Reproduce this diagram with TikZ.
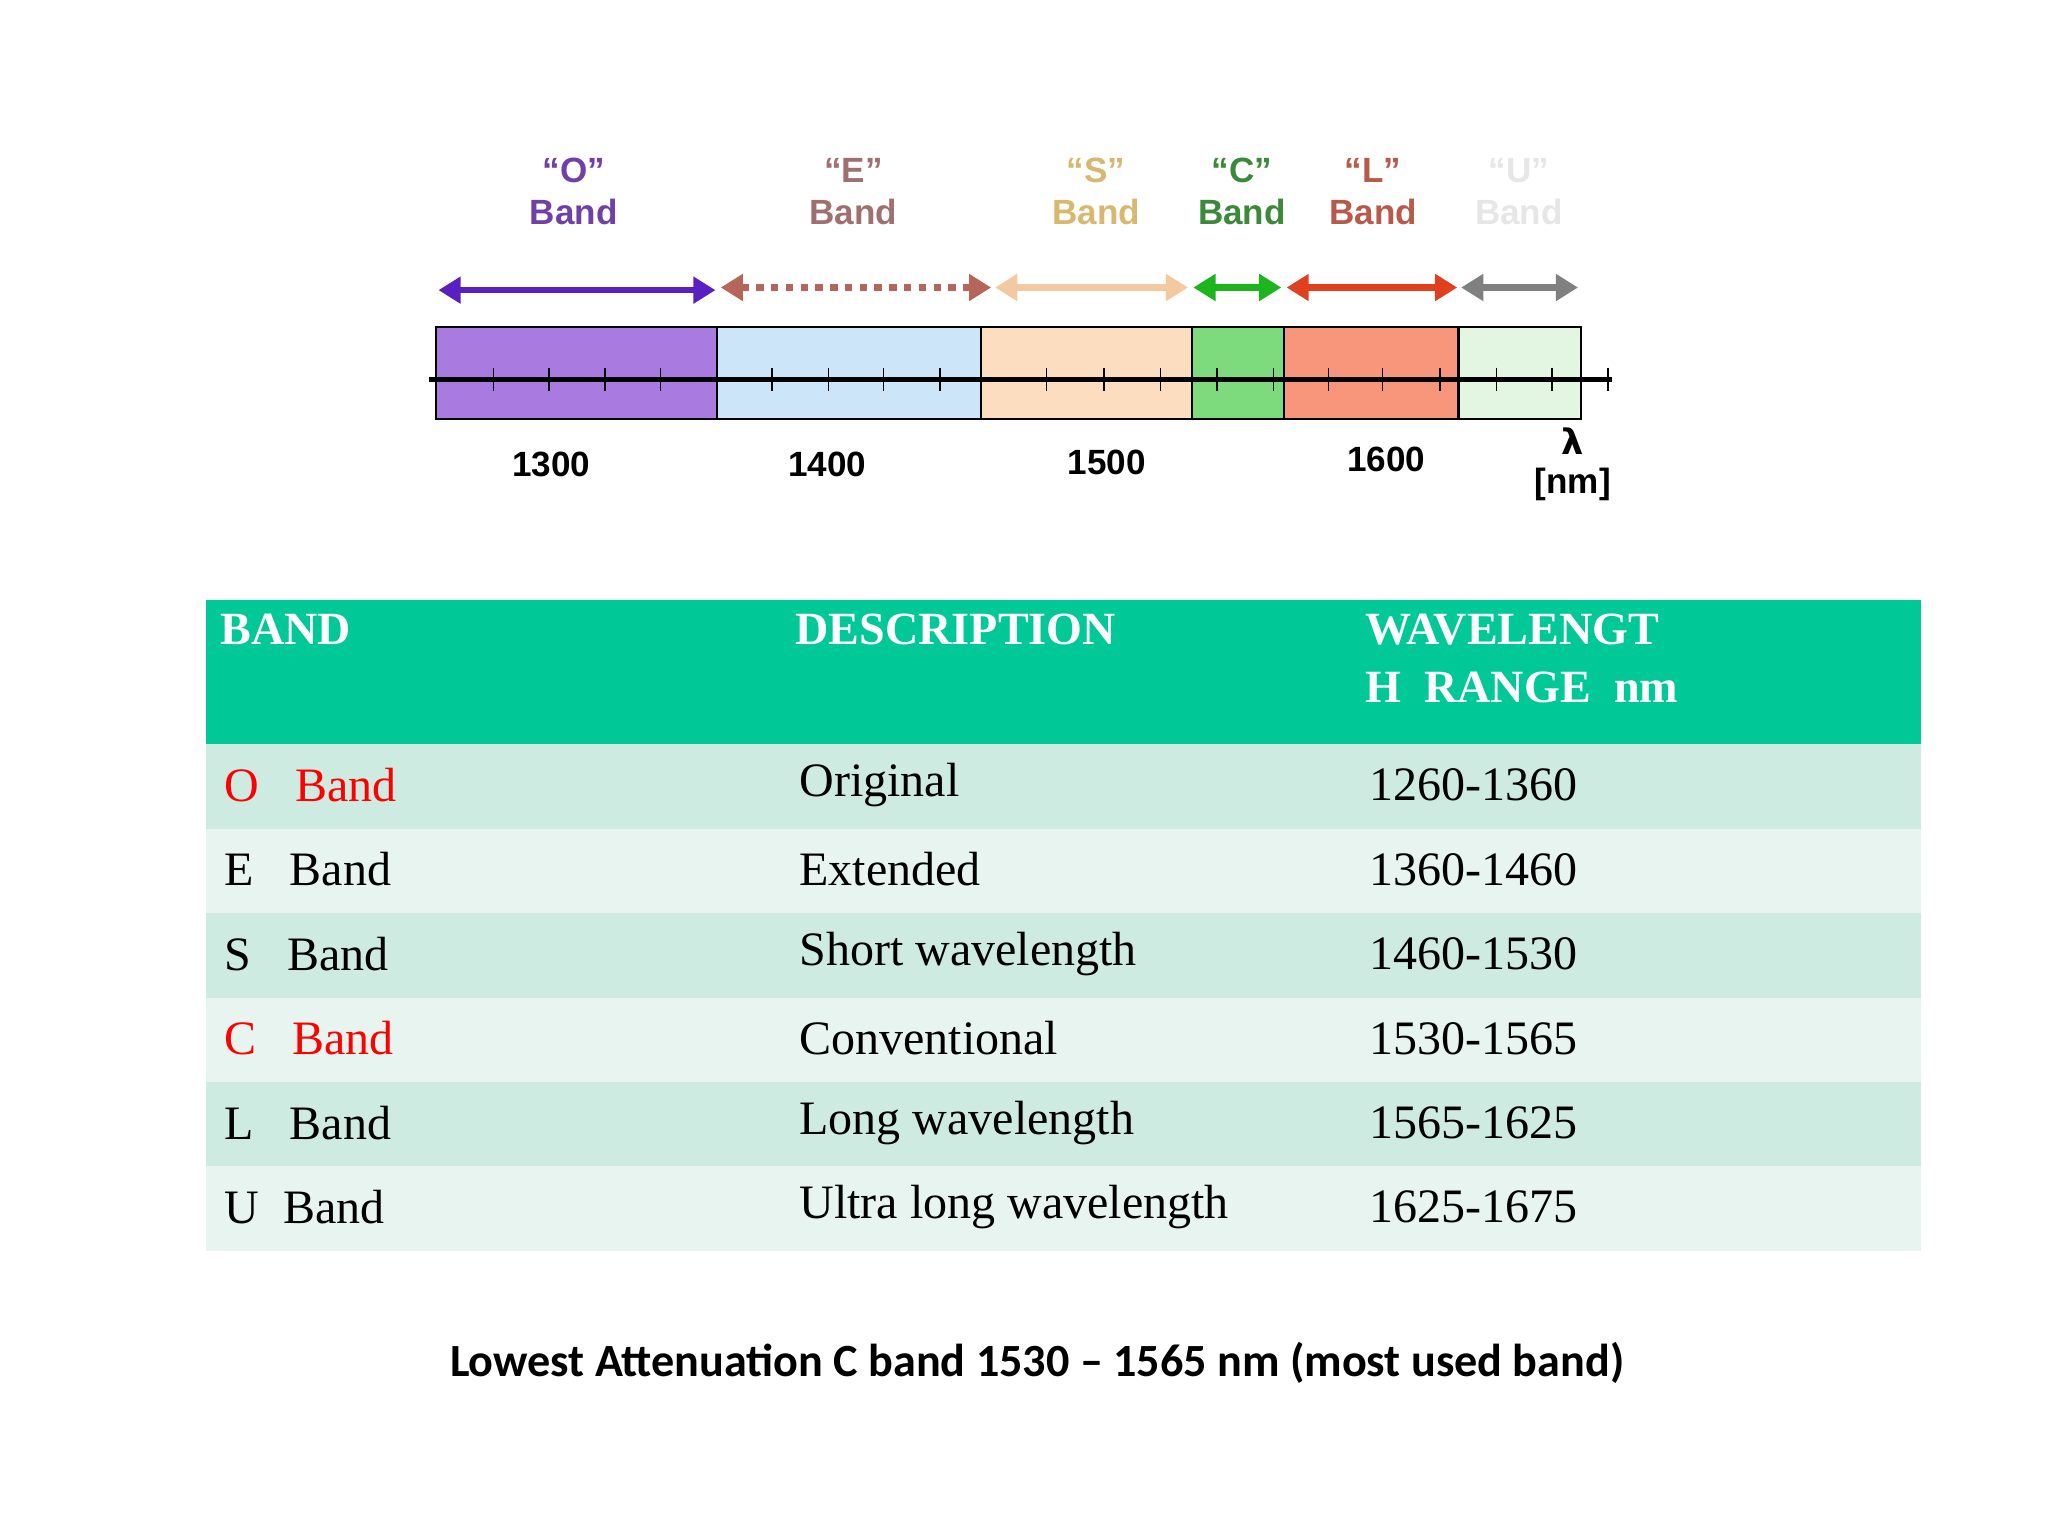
\documentclass[tikz,border=0pt]{standalone}
\usepackage{fontspec}
\setmainfont{Liberation Serif}
\newfontfamily\arial{Liberation Sans}
\newfontfamily\calib{Carlito}
\usetikzlibrary{arrows.meta}
\definecolor{hdr}{HTML}{00C896}
\definecolor{rowA}{HTML}{CDEBE0}
\definecolor{rowB}{HTML}{E7F4EF}
\definecolor{cO}{HTML}{A97AE0}\definecolor{cE}{HTML}{CDE5F8}\definecolor{cS}{HTML}{FCDDC0}
\definecolor{cC}{HTML}{7DDB7D}\definecolor{cL}{HTML}{F7967A}\definecolor{cU}{HTML}{E2F6E2}
\definecolor{aO}{HTML}{5A1FC0}\definecolor{aE}{HTML}{B5655A}\definecolor{aS}{HTML}{F5C9A0}
\definecolor{aC}{HTML}{1DB51D}\definecolor{aL}{HTML}{E0401E}\definecolor{aU}{HTML}{808080}
\definecolor{tO}{HTML}{7040A8}\definecolor{tE}{HTML}{A07070}\definecolor{tS}{HTML}{D8B870}
\definecolor{tC}{HTML}{3A8A3A}\definecolor{tL}{HTML}{B85A4A}\definecolor{tU}{HTML}{E6E6E6}
\begin{document}
\begin{tikzpicture}[x=0.025cm,y=-0.025cm,
  bandlbl/.style={font=\arial\bfseries\fontsize{19}{23}\selectfont,align=center},
  numlbl/.style={font=\arial\bfseries\fontsize{19}{23}\selectfont},
  barr/.style={line width=3.5pt,{Triangle[width=14pt,length=12pt]}-{Triangle[width=14pt,length=12pt]}},
  cell/.style={anchor=west,font=\fontsize{26}{30}\selectfont},
  hcell/.style={anchor=north west,font=\bfseries\fontsize{25}{31}\selectfont,text=white,align=left}]
\useasboundingbox (0,0) rectangle (1560,1170);
% band rectangles
\foreach \a/\b/\c in {332/546/cO,546/747/cE,747/908/cS,908/978/cC,978/1111/cL,1111/1204/cU}
  \draw[fill=\c,line width=1.2pt] (\a,249) rectangle (\b,319);
\draw[line width=3pt] (327,289) -- (1228,289);
\foreach \t in {376,418,461,503,588,631,673,716,797,841,884,927,970,1012,1053,1097,1140,1182,1225}
  \draw[line width=0.8pt] (\t,280) -- (\t,298);
% arrows
\coordinate (o1) at (334,221); \coordinate (o2) at (545,221);
\coordinate (e1) at (549,219); \coordinate (e2) at (755,219);
\coordinate (s1) at (758,219); \coordinate (s2) at (905,219);
\coordinate (c1) at (909,219); \coordinate (c2) at (976,219);
\coordinate (l1) at (980,219); \coordinate (l2) at (1110,219);
\coordinate (u1) at (1113,219); \coordinate (u2) at (1202,219);
\draw[barr,aO] (o1) -- (o2);
\draw[barr,aE,dash pattern=on 4pt off 4pt] (e1) -- (e2);
\draw[barr,aS] (s1) -- (s2);
\draw[barr,aC] (c1) -- (c2);
\draw[barr,aL] (l1) -- (l2);
\draw[barr,aU] (u1) -- (u2);
% band labels
\node[bandlbl,text=tO] (lO) at (437,146) {“O”\\Band};
\node[bandlbl,text=tE] (lE) at (650,146) {“E”\\Band};
\node[bandlbl,text=tS] (lS) at (835,146) {“S”\\Band};
\node[bandlbl,text=tC] (lC) at (946,146) {“C”\\Band};
\node[bandlbl,text=tL] (lL) at (1046,146) {“L”\\Band};
\node[bandlbl,text=tU] (lU) at (1157,146) {“U”\\Band};
\node[numlbl] (n1) at (420,354) {1300};
\node[numlbl] (n2) at (630,354) {1400};
\node[numlbl] (n3) at (843,352) {1500};
\node[numlbl] (n4) at (1056,350) {1600};
\node[numlbl] (lam) at (1198,336) {\fontspec{DejaVu Sans}\bfseries λ};
\node[numlbl] (nm) at (1198,369) {[nm]};
% table
\fill[hdr] (157,457) rectangle (1463,567);
\foreach \i/\c in {0/rowA,1/rowB,2/rowA,3/rowB,4/rowA,5/rowB}
  \fill[\c] (157,{567+64.3*\i}) rectangle (1463,{567+64.3*(\i+1)});
\node[hcell] (h1) at (163,463) {BAND};
\node[hcell] (h2) at (601,463) {DESCRIPTION};
\node[hcell] (h3) at (1035,463) {WAVELENGT\\H\ \ RANGE\ \ nm};
\foreach \i/\b/\d/\r/\col in {0/O\ \ \ Band/Original/1260-1360/red,1/E\ \ \ Band/Extended/1360-1460/black,2/S\ \ \ Band/Short wavelength/1460-1530/black,3/C\ \ \ Band/Conventional/1530-1565/red,4/L\ \ \ Band/Long wavelength/1565-1625/black,5/U\ \ Band/Ultra long wavelength/1625-1675/black}{
  \node[cell,text=\col] (b\i) at (166,{598+64.3*\i}) {\b};
  \node[cell] (d\i) at (604,{598+64.3*\i}) {\d};
  \node[cell] (r\i) at (1038,{598+64.3*\i}) {\r};
}
\node[font=\calib\bfseries\fontsize{25}{30}\selectfont] (cap) at (790,1038) {Lowest Attenuation C band 1530 – 1565 nm (most used band)};
\end{tikzpicture}
\end{document}
